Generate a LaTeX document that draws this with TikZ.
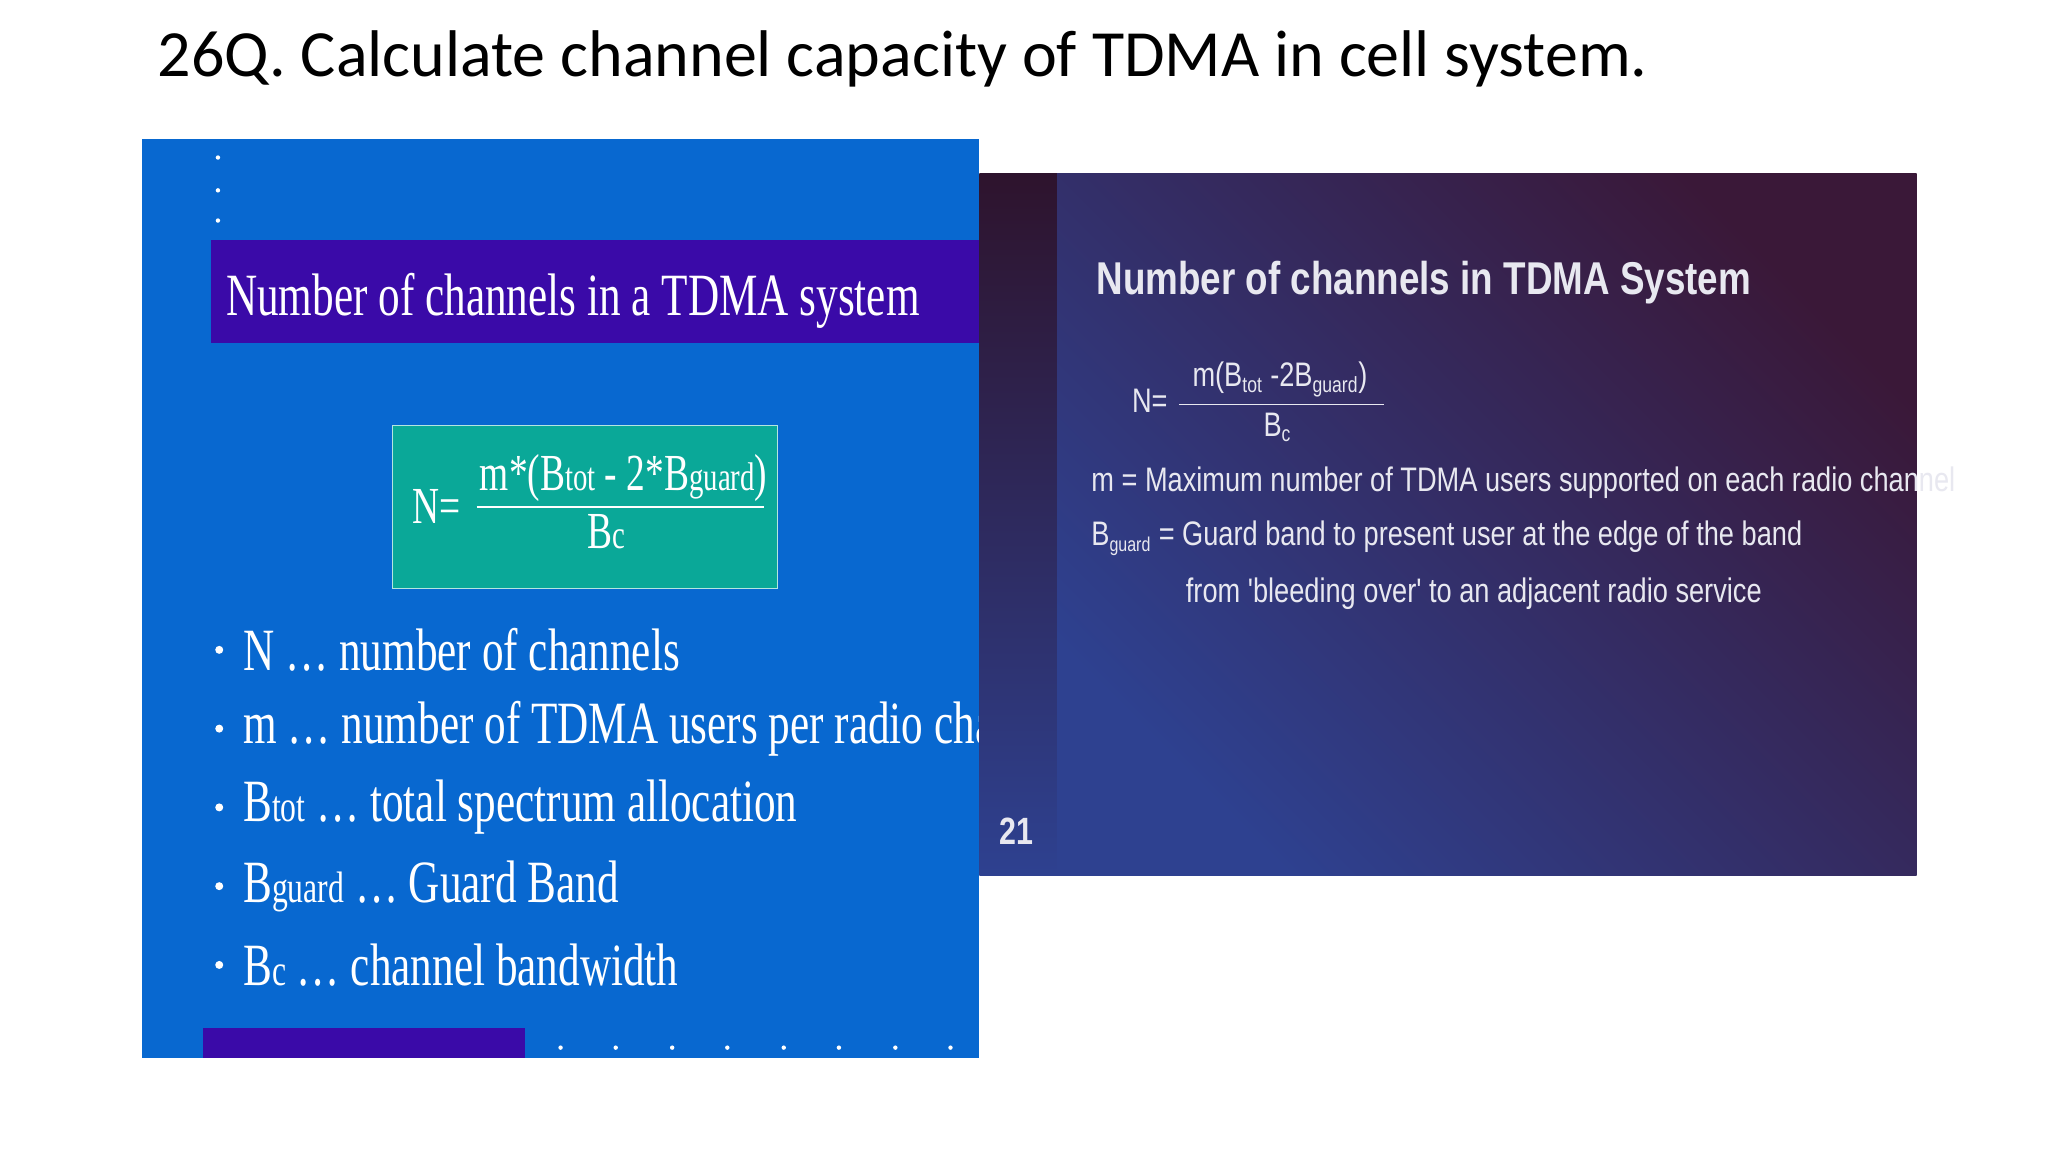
\documentclass[tikz,border=0pt]{standalone}
\usepackage{fontspec}
\setmainfont{Liberation Serif}
\newfontfamily\calib{Carlito}
\newfontfamily\arialf{Liberation Sans}
\usepackage{graphicx}
\definecolor{lblue}{HTML}{0868D0}
\definecolor{lpurp}{HTML}{3A0AA8}
\definecolor{lteal}{HTML}{0AA898}
\definecolor{rnavy}{HTML}{2E4190}
\definecolor{rmaroon}{HTML}{3A1838}
\definecolor{rtxt}{HTML}{E8E8F0}
\tikzset{
 ltxt/.style={anchor=west,text=white,font=\fontsize{30}{32}\selectfont,inner sep=0pt},
 rt/.style={anchor=west,text=rtxt,font=\arialf\fontsize{17}{19}\selectfont,inner sep=0pt},
 dot/.style={fill=white,circle,inner sep=0pt,minimum size=2.2pt}
}
\newcommand{\cx}[1]{\scalebox{0.72}[1]{#1}}
\newcommand{\ca}[1]{\scalebox{0.8}[1]{#1}}
\begin{document}
\begin{tikzpicture}[x=0.6564pt,y=-0.6564pt]
\useasboundingbox[fill=white] (0,0) rectangle (1560,877.5);
\node[anchor=west,font=\calib\fontsize{33}{36}\selectfont,inner sep=0pt] (title) at (120,45) {26Q. Calculate channel capacity of TDMA in cell system.};
% left panel
\fill[lblue] (108,106) rectangle (746,806);
\fill[lpurp] (161,183) rectangle (746,261);
\fill[lpurp] (155,783) rectangle (400,806);
\foreach \y in {120,145,168} \node[dot] at (166,\y) {};
\foreach \x in {427,469,512,554,597,639,682,724} \node[dot] at (\x,798) {};
\node[ltxt] (lt) at (172,229) {\cx{Number of channels in a TDMA system}};
\node[draw=white!70!lteal,fill=lteal,minimum width=293*0.6564pt,minimum height=124*0.6564pt,inner sep=0pt] (fbox) at (445.5,386) {};
\node[ltxt,font=\fontsize{26}{28}\selectfont] (fN) at (314,386) {\cx{N=}};
\draw[white,line width=0.8pt] (363,386) -- (582,386);
\node[anchor=south,text=white,inner sep=1pt,font=\fontsize{26}{28}\selectfont] (fnum) at (475,384) {\cx{m*(B\fontsize{20}{20}\selectfont tot\fontsize{26}{28}\selectfont\ - 2*B\fontsize{20}{20}\selectfont guard\fontsize{26}{28}\selectfont)}};
\node[anchor=north,text=white,inner sep=1pt,font=\fontsize{26}{28}\selectfont] (fden) at (462,390) {\cx{B\fontsize{20}{20}\selectfont c}};
\foreach \y/\t [count=\i] in {495/{N \dots\ number of channels},555/{m \dots\ number of TDMA users per radio channel},615/{B{\fontsize{22}{22}\selectfont tot} \dots\ total spectrum allocation},675/{B{\fontsize{22}{22}\selectfont guard} \dots\ Guard Band},735/{B{\fontsize{22}{22}\selectfont c} \dots\ channel bandwidth}}{
 \node[dot,minimum size=4pt] (b\i) at (167,\y) {};
 \node[ltxt] (t\i) at (185,\y) {\cx{\t}};
}
% right panel
\shade[left color=rnavy,right color=rmaroon,shading angle=135] (805,132) rectangle (1460,667);
\shade[top color=rmaroon!80!black,bottom color=rnavy] (746,132) rectangle (805,667);
\node[rt,font=\arialf\bfseries\fontsize{23}{25}\selectfont] (rtitle) at (835,215) {\ca{Number of channels in TDMA System}};
\node[rt] (rN) at (862,305) {\ca{N=}};
\draw[rtxt,line width=0.6pt] (898,308) -- (1054,308);
\node[anchor=south,text=rtxt,inner sep=1pt,font=\arialf\fontsize{17}{19}\selectfont] (rnum) at (975,304) {\ca{m(B$_{\mbox{\fontsize{11}{11}\selectfont tot}}$ -2B$_{\mbox{\fontsize{11}{11}\selectfont guard}}$)}};
\node[anchor=north,text=rtxt,inner sep=1pt,font=\arialf\fontsize{17}{19}\selectfont] (rden) at (973,313) {\ca{B$_{\mbox{\fontsize{11}{11}\selectfont c}}$}};
\node[rt] (r1) at (831,368) {\ca{m = Maximum number of TDMA users supported on each radio channel}};
\node[rt] (r2) at (831,410) {\ca{B$_{\mbox{\fontsize{10}{10}\selectfont guard}}$ = Guard band to present user at the edge of the band}};
\node[rt] (r3) at (903,452) {\ca{from 'bleeding over' to an adjacent radio service}};
\node[rt,font=\arialf\bfseries\fontsize{19}{21}\selectfont] (r21) at (761,633) {\ca{21}};
\end{tikzpicture}
\end{document}
